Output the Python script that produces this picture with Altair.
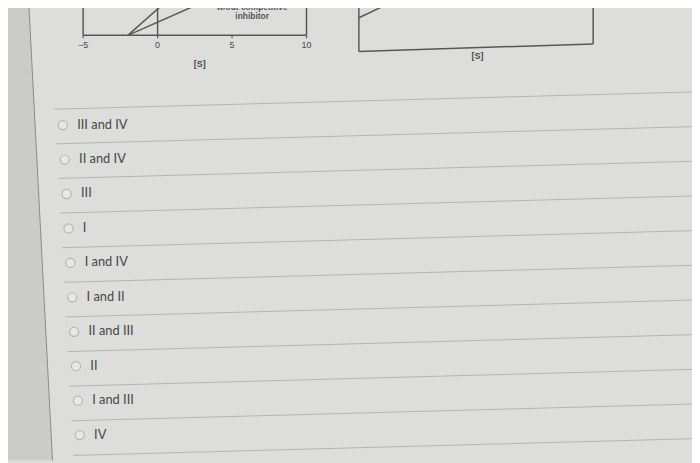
import altair as alt
import pandas as pd

# ---------------- data ----------------
# answer choices, top to bottom
options = ["III and IV", "II and IV", "III", "I", "I and IV",
           "I and II", "II and III", "II", "I and III", "IV"]

# left graph: two straight lines meeting on the [S] axis
lp_ticks = [-5, 0, 5, 10]
lp_series = ["with inhibitor", "with inhibitor", "w/out inhibitor", "w/out inhibitor"]
lp_x = [-2.0, 1.1, -2.0, 4.2]
lp_y = [0.0, 1.25, 0.0, 1.25]
lp_xlabel = "[S]"
lp_note = ["w/out competitive", "inhibitor"]
lp_note_x = [6.35, 6.35]
lp_note_y = [0.88, 0.58]

# right graph: visible part of its curve
rp_x = [0.0, 2.1]
rp_y = [0.69, 1.17]
rp_xlabel = "[S]"

# ---------------- layout (page pixels of the 700x463 picture) ----------------
W, H, M = 692, 455, 8
BG = "#dddddb"
STRIP = "#cbcbc8"
INK = "#585858"

pageX = alt.Scale(domain=[0, 700], range=[-M, 700 - M])
pageY = alt.Scale(domain=[0, 463], range=[-M, 463 - M])
lx = alt.Scale(domain=[-5, 10], range=[84 - M, 310 - M])
ly = alt.Scale(domain=[0, 1], range=[33 - M, 0 - M])
rx = alt.Scale(domain=[0, 10], range=[363 - M, 600 - M])
ry = alt.Scale(domain=[0, 1], range=[49 - M, 0 - M])

def PX(f): return alt.X(f, type="quantitative", scale=pageX, axis=None)
def PY(f): return alt.Y(f, type="quantitative", scale=pageY, axis=None)

one = pd.DataFrame({"a": [0]})

# darker strip at the left edge of the photo, and the border line
strip = alt.Chart(pd.DataFrame({"py": [0, 463], "px": [29, 53], "p0": [0, 0]})).mark_area(
    orient="horizontal", color=STRIP).encode(y=PY("py"), x=PX("px"), x2="p0:Q")
border = alt.Chart(one).transform_calculate(x="29", x2="53", y="0", y2="463").mark_rule(
    color="#8a8a87", strokeWidth=1).encode(x=PX("x"), x2="x2:Q", y=PY("y"), y2="y2:Q")

# separators between choices (slightly tilted, as in the photo)
seps = alt.Chart(pd.DataFrame({"k": list(range(len(options) + 1))})).transform_calculate(
    xs="55 + 1.9*datum.k", xe="705",
    ys="107.7 + 35.03*datum.k",
).transform_calculate(ye="datum.ys - 0.027*(705 - datum.xs)").mark_rule(
    color="#b3b3b0", strokeWidth=1).encode(x=PX("xs"), x2="xe:Q", y=PY("ys"), y2="ye:Q")

opt_df = pd.DataFrame({"label": options, "i": list(range(len(options)))})
radios = alt.Chart(opt_df).transform_calculate(
    cx="63.5 + 1.9*datum.i", cy="123.8 + 34.85*datum.i").mark_point(
    shape="circle", size=85, filled=True, fill="#e7e7e5", stroke="#b4b4b1",
    strokeWidth=1.2, opacity=1).encode(x=PX("cx"), y=PY("cy"))
labels = alt.Chart(opt_df).transform_calculate(
    tx="78 + 1.9*datum.i", ty="123.3 + 34.85*datum.i").mark_text(
    align="left", baseline="middle", font="Lato", fontSize=13, color="#474747").encode(
    x=PX("tx"), y=PY("ty"), text="label:N")

# ---------------- left graph ----------------
def LX(f): return alt.X(f, type="quantitative", scale=lx, axis=None)
def LY(f): return alt.Y(f, type="quantitative", scale=ly, axis=None)

frame_l = alt.Chart(pd.DataFrame({"x": [-5, 10, 0], "y0": [0, 0, 0], "y1": [1.3, 1.3, 1.3]})).mark_rule(
    color=INK, strokeWidth=1.5).encode(x=LX("x"), y=LY("y0"), y2="y1:Q")
base_l = alt.Chart(pd.DataFrame({"x0": [-5], "x1": [10], "y": [0]})).mark_rule(
    color=INK, strokeWidth=1.5).encode(x=LX("x0"), x2="x1:Q", y=LY("y"))
ticks_l = alt.Chart(pd.DataFrame({"t": lp_ticks})).transform_calculate(
    y0="0", y1="-0.09").mark_rule(color=INK, strokeWidth=1.2).encode(
    x=LX("t"), y=LY("y0"), y2="y1:Q")
tlab_l = alt.Chart(pd.DataFrame({"t": lp_ticks})).transform_calculate(
    y="-0.3", lab="format(datum.t, 'd')").mark_text(
    font="Liberation Sans", fontSize=9, color="#4a4a4a", baseline="middle").encode(
    x=LX("t"), y=LY("y"), text="lab:N")
lines_l = alt.Chart(pd.DataFrame({"s": lp_series, "x": lp_x, "y": lp_y})).mark_line(
    color=INK, strokeWidth=1.5).encode(x=LX("x"), y=LY("y"), detail="s:N")
xlab_l = alt.Chart(pd.DataFrame({"t": [lp_xlabel], "x": [2.83], "y": [-0.88]})).mark_text(
    font="Liberation Sans", fontSize=9, fontWeight="bold", color="#4a4a4a", baseline="middle").encode(
    x=LX("x"), y=LY("y"), text="t:N")
note_l = alt.Chart(pd.DataFrame({"t": lp_note, "x": lp_note_x, "y": lp_note_y})).mark_text(
    font="Liberation Sans", fontSize=8.5, fontWeight="bold", color="#555555", baseline="middle").encode(
    x=LX("x"), y=LY("y"), text="t:N")

# ---------------- right graph ----------------
frame_r = alt.Chart(pd.DataFrame({
    "x0": [363, 600, 363], "x1": [363, 600, 600],
    "y0": [-10, -10, 49.3], "y1": [49.3, 41.7, 41.7]})).mark_rule(
    color=INK, strokeWidth=1.5).encode(x=PX("x0"), x2="x1:Q", y=PY("y0"), y2="y1:Q")
line_r = alt.Chart(pd.DataFrame({"x": rp_x, "y": rp_y})).mark_line(
    color=INK, strokeWidth=1.5).encode(
    x=alt.X("x:Q", scale=rx, axis=None), y=alt.Y("y:Q", scale=ry, axis=None))
xlab_r = alt.Chart(pd.DataFrame({"t": [rp_xlabel], "x": [5.06], "y": [-0.1]})).mark_text(
    font="Liberation Sans", fontSize=9, fontWeight="bold", color="#4a4a4a", baseline="middle").encode(
    x=alt.X("x:Q", scale=rx, axis=None), y=alt.Y("y:Q", scale=ry, axis=None), text="t:N")

chart = alt.layer(
    strip, border, seps, radios, labels,
    frame_l, base_l, ticks_l, tlab_l, lines_l, xlab_l, note_l,
    frame_r, line_r, xlab_r,
).resolve_scale(x="independent", y="independent").properties(
    width=W, height=H, padding=0, autosize=alt.AutoSizeParams(type="none"),
    background=BG,
).configure_view(stroke=None)

chart.save("out.html", embed_options={"renderer": "svg", "actions": False})
